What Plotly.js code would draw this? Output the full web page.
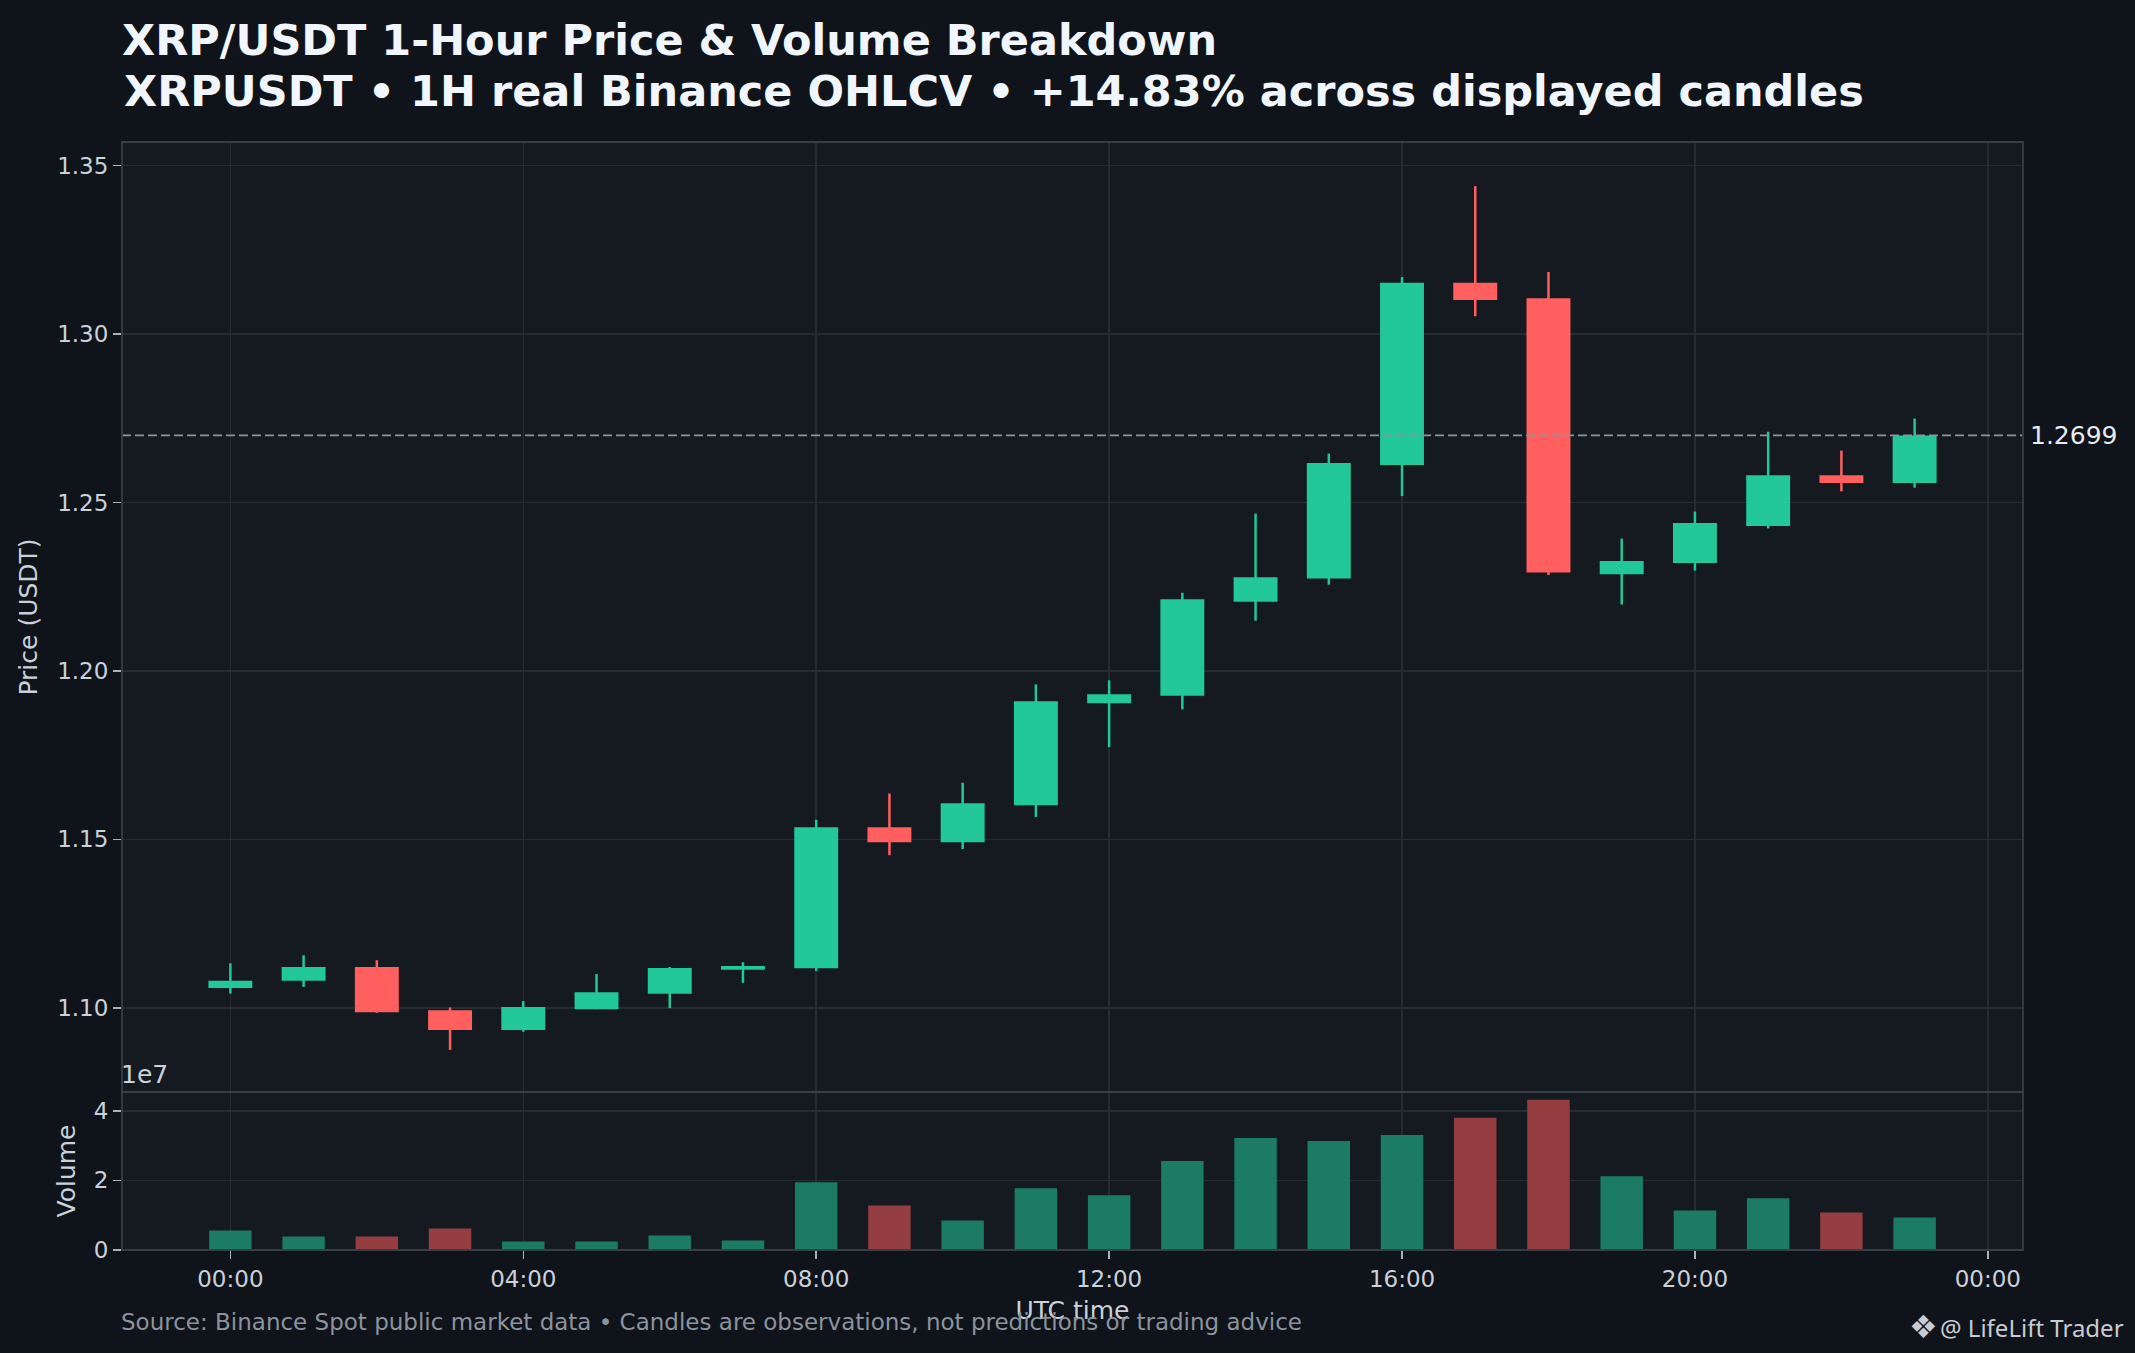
<!DOCTYPE html>
<html>
<head>
<meta charset="utf-8">
<script src="https://cdn.plot.ly/plotly-3.0.1.min.js"></script>
<style>
  html, body { margin: 0; padding: 0; background: #0f131a; }
  #chart { width: 2135px; height: 1353px; }
</style>
</head>
<body>
<div id="chart"></div>
<script>
// hourly candles (UTC)
//
const times = [
  '2024-11-16 00:00', '2024-11-16 01:00', '2024-11-16 02:00', '2024-11-16 03:00',
  '2024-11-16 04:00', '2024-11-16 05:00', '2024-11-16 06:00', '2024-11-16 07:00',
  '2024-11-16 08:00', '2024-11-16 09:00', '2024-11-16 10:00', '2024-11-16 11:00',
  '2024-11-16 12:00', '2024-11-16 13:00', '2024-11-16 14:00', '2024-11-16 15:00',
  '2024-11-16 16:00', '2024-11-16 17:00', '2024-11-16 18:00', '2024-11-16 19:00',
  '2024-11-16 20:00', '2024-11-16 21:00', '2024-11-16 22:00', '2024-11-16 23:00'
];
const open  = [1.1059, 1.1080, 1.1121, 1.0993, 1.0934, 1.0996, 1.1042, 1.1113,
               1.1117, 1.1536, 1.1491, 1.1601, 1.1904, 1.1926, 1.2205, 1.2274,
               1.2611, 1.3152, 1.3106, 1.2287, 1.2320, 1.2430, 1.2581, 1.2558];
const high  = [1.1132, 1.1156, 1.1141, 1.1001, 1.1020, 1.1100, 1.1121, 1.1135,
               1.1558, 1.1636, 1.1668, 1.1960, 1.1972, 1.2232, 1.2467, 1.2645,
               1.3169, 1.3439, 1.3184, 1.2393, 1.2473, 1.2710, 1.2654, 1.2749];
const low   = [1.1042, 1.1062, 1.0985, 1.0875, 1.0929, 1.0996, 1.0999, 1.1074,
               1.1109, 1.1453, 1.1471, 1.1566, 1.1774, 1.1886, 1.2149, 1.2256,
               1.2519, 1.3053, 1.2285, 1.2197, 1.2298, 1.2423, 1.2533, 1.2544];
const close = [1.1080, 1.1121, 1.0987, 1.0934, 1.1002, 1.1046, 1.1118, 1.1124,
               1.1536, 1.1491, 1.1607, 1.1910, 1.1931, 1.2213, 1.2278, 1.2617,
               1.3152, 1.3101, 1.2292, 1.2326, 1.2439, 1.2581, 1.2558, 1.2699];
const volume = [5.59e6, 3.86e6, 3.86e6, 6.17e6, 2.41e6, 2.41e6, 4.14e6, 2.70e6,
                1.947e7, 1.282e7, 8.48e6, 1.773e7, 1.571e7, 2.554e7, 3.219e7, 3.133e7,
                3.306e7, 3.798e7, 4.318e7, 2.120e7, 1.137e7, 1.484e7, 1.080e7, 9.35e6];
const volTicks = [0, 2e7, 4e7];
const volTickText = ['0', '2', '4'];

// colours and fonts
//
const UP = '#22c79a';
const DOWN = '#ff5f5f';
const UP_VOL = '#1b7b64';
const DOWN_VOL = '#943e41';
const TEXT = '#c9d1d9';
const GRID = '#262c33';
const SPINE = '#373e47';
const FONT = 'DejaVu Sans, sans-serif';
const TICK_SIZE = 23;
const LABEL_SIZE = 25;

const HOUR = 3600 * 1000;
const t0 = new Date(times[0].replace(' ', 'T') + 'Z').getTime();
const tN = new Date(times[times.length - 1].replace(' ', 'T') + 'Z').getTime();
const toIso = ms => new Date(ms).toISOString().slice(0, 19).replace('T', ' ');

// build candle bodies, wicks and volume colours
//
const isUp = close.map((c, i) => c >= open[i]);
const bodyBase = close.map((c, i) => Math.min(c, open[i]));
const bodySize = close.map((c, i) => Math.abs(c - open[i]));

function wicks(up) {
  const x = [], y = [];
  times.forEach((t, i) => {
    if (isUp[i] !== up) return;
    x.push(t, t, null);
    y.push(low[i], high[i], null);
  });
  return { x, y };
}
const upWick = wicks(true);
const downWick = wicks(false);

const traces = [
  {
    type: 'bar', x: times, y: bodySize, base: bodyBase,
    xaxis: 'x', yaxis: 'y2', width: 0.6 * HOUR,
    marker: { color: isUp.map(u => u ? UP : DOWN), line: { width: 0 } },
    hoverinfo: 'skip', showlegend: false
  },
  {
    type: 'scatter', mode: 'lines', x: upWick.x, y: upWick.y,
    xaxis: 'x', yaxis: 'y2', line: { color: UP, width: 2.5 },
    hoverinfo: 'skip', showlegend: false, connectgaps: false
  },
  {
    type: 'scatter', mode: 'lines', x: downWick.x, y: downWick.y,
    xaxis: 'x', yaxis: 'y2', line: { color: DOWN, width: 2.5 },
    hoverinfo: 'skip', showlegend: false, connectgaps: false
  },
  {
    type: 'bar', x: times, y: volume,
    xaxis: 'x', yaxis: 'y', width: 0.58 * HOUR,
    marker: { color: isUp.map(u => u ? UP_VOL : DOWN_VOL), line: { width: 0 } },
    hoverinfo: 'skip', showlegend: false
  }
];

const lastClose = close[close.length - 1];
const change = (lastClose / open[0] - 1) * 100;
const VOL_TOP = 0.1426;

const tickStyle = {
  ticks: 'outside', ticklen: 8, tickwidth: 1.5, tickcolor: '#aab1ba',
  tickfont: { size: TICK_SIZE, color: TEXT },
  showgrid: true, gridcolor: GRID, gridwidth: 1.5,
  zeroline: false, showline: false
};

const layout = {
  width: 2135,
  height: 1353,
  paper_bgcolor: '#0f131a',
  plot_bgcolor: '#151a21',
  font: { family: FONT, color: TEXT, size: TICK_SIZE },
  margin: { l: 122, r: 112, t: 142, b: 103 },
  showlegend: false,
  title: {
    text: 'XRP/USDT 1-Hour Price & Volume Breakdown',
    font: { family: FONT, size: 43, color: '#f0f6fc', weight: 'bold' },
    x: 0, xref: 'paper', xanchor: 'left',
    y: 0.9708, yref: 'container', yanchor: 'middle'
  },
  xaxis: Object.assign({}, tickStyle, {
    type: 'date',
    anchor: 'y',
    range: [toIso(t0 - 1.48 * HOUR), toIso(tN + 1.48 * HOUR)],
    tick0: times[0], dtick: 4 * HOUR, tickformat: '%H:%M',
    rangeslider: { visible: false },
    title: { text: 'UTC time', font: { size: LABEL_SIZE, color: TEXT }, standoff: 10 }
  }),
  yaxis: Object.assign({}, tickStyle, {
    domain: [0, VOL_TOP],
    anchor: 'x',
    range: [0, 4.54e7],
    tickvals: volTicks, ticktext: volTickText,
    title: { text: 'Volume', font: { size: LABEL_SIZE, color: TEXT }, standoff: 10 }
  }),
  yaxis2: Object.assign({}, tickStyle, {
    domain: [VOL_TOP, 1],
    anchor: 'x',
    range: [1.075, 1.357],
    tick0: 1.10, dtick: 0.05, tickformat: '.2f',
    title: { text: 'Price (USDT)', font: { size: LABEL_SIZE, color: TEXT }, standoff: 12 }
  }),
  shapes: [
    // last close reference line
    //
    {
      type: 'line', xref: 'paper', x0: 0, x1: 1, yref: 'y2', y0: lastClose, y1: lastClose,
      line: { color: '#8b949e', width: 1.8, dash: '9px,4px' }, layer: 'above'
    },
    // panel borders
    //
    {
      type: 'rect', xref: 'paper', yref: 'paper', x0: 0, x1: 1, y0: VOL_TOP, y1: 1,
      line: { color: SPINE, width: 1.8 }, layer: 'above'
    },
    {
      type: 'rect', xref: 'paper', yref: 'paper', x0: 0, x1: 1, y0: 0, y1: VOL_TOP,
      line: { color: SPINE, width: 1.8 }, layer: 'above'
    }
  ],
  annotations: [
    {
      text: 'XRPUSDT • 1H real Binance OHLCV • +' + change.toFixed(2) + '% across displayed candles',
      xref: 'paper', x: 0, xanchor: 'left',
      yref: 'paper', y: 1.0456, yanchor: 'middle', showarrow: false,
      font: { family: FONT, size: 43, color: '#f0f6fc', weight: 'bold' }
    },
    {
      text: lastClose.toFixed(4), xref: 'paper', x: 1, xanchor: 'left', xshift: 5,
      yref: 'y2', y: lastClose, yanchor: 'middle', showarrow: false,
      font: { size: LABEL_SIZE, color: '#e6edf3' }
    },
    {
      text: '1e7', xref: 'paper', x: 0, xanchor: 'left', xshift: -3,
      yref: 'paper', y: VOL_TOP, yanchor: 'bottom', yshift: 1, showarrow: false,
      font: { size: LABEL_SIZE, color: TEXT }
    },
    {
      text: 'Source: Binance Spot public market data • Candles are observations, not predictions or trading advice',
      xref: 'paper', x: 0, xanchor: 'left', xshift: -3,
      yref: 'paper', y: -0.065, yanchor: 'middle', showarrow: false,
      font: { size: TICK_SIZE, color: '#8b949e' }
    },
    {
      text: '❖',
      xref: 'paper', x: 0.9561, xanchor: 'right',
      yref: 'paper', y: -0.0695, yanchor: 'middle', showarrow: false,
      font: { size: 32, color: '#c8ccd2' }
    },
    {
      text: '@ LifeLift Trader',
      xref: 'paper', x: 1.0542, xanchor: 'right',
      yref: 'paper', y: -0.0695, yanchor: 'middle', showarrow: false,
      font: { family: 'Noto Sans, sans-serif', size: 24, color: '#c8ccd2' }
    }
  ]
};

Plotly.newPlot('chart', traces, layout, { displayModeBar: false, staticPlot: true });
</script>
</body>
</html>
